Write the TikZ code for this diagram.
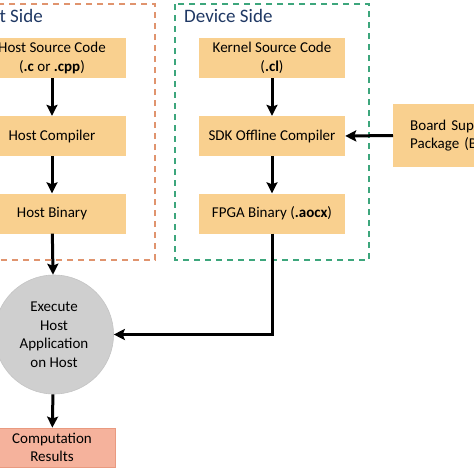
\documentclass[tikz,border=0pt]{standalone}
\usepackage{fontspec}
\setmainfont{Carlito}
\usetikzlibrary{arrows.meta,calc}
\definecolor{boxfill}{HTML}{F9D08F}
\definecolor{resfill}{HTML}{F5B29C}
\definecolor{resline}{HTML}{E99A80}
\definecolor{hostdash}{HTML}{E0946E}
\definecolor{devdash}{HTML}{3DA67C}
\definecolor{titlecol}{HTML}{1F3864}
\definecolor{circfill}{HTML}{CFCFCF}
\definecolor{circline}{HTML}{C4C4C4}
\tikzset{
  stepbox/.style={rectangle, fill=boxfill, draw=none, minimum height=40pt, align=center, inner sep=2pt, font=\fontsize{15}{18.5}\selectfont},
  flow/.style={line width=3pt, -{Stealth[length=11pt,width=11pt,inset=2pt]}},
  region/.style={line width=1.4pt, dash pattern=on 6pt off 5pt},
  title/.style={font=\fontsize{19}{22}\selectfont, text=titlecol, inner sep=0pt},
}
\begin{document}
\begin{tikzpicture}[x=1pt,y=-1pt]
\useasboundingbox (0,0) rectangle (474,474);
\clip (0,0) rectangle (474,474);
\fill[white] (0,0) rectangle (474,474);
% regions
\draw[region, draw=hostdash] (-40,4) rectangle (155,260);
\draw[region, draw=devdash] (175,4) rectangle (369,260);
\node[title, anchor=base east] (htitle) at (43,22) {Host Side};
\node[title, anchor=base west] (dtitle) at (184,22) {Device Side};
% host column
\node[stepbox, minimum width=148pt] (hsrc) at (52,58) {Host Source Code\\(\textbf{.c} or \textbf{.cpp})};
\node[stepbox, minimum width=148pt] (hcomp) at (52,136) {Host Compiler};
\node[stepbox, minimum width=148pt] (hbin) at (52,213.5) {Host Binary};
% device column
\node[stepbox, minimum width=146pt] (ksrc) at (272,58) {Kernel Source Code\\(\textbf{.cl})};
\node[stepbox, minimum width=146pt] (sdk) at (272,136) {SDK Offline Compiler};
\node[stepbox, minimum width=146pt] (fpga) at (272,213.5) {FPGA Binary (\textbf{.aocx})};
% board support package
\node[stepbox, anchor=west, minimum width=150pt, minimum height=63pt, text width=116pt, inner xsep=17pt, align=left] (bsp) at (393,135.5) {Board Support\\Package (BSP)};
% execute
\node[circle, fill=circfill, draw=circline, line width=0.6pt, minimum size=119pt, inner sep=0pt, align=center, font=\fontsize{15}{18.5}\selectfont] (exec) at (54,334.5) {Execute\\Host\\Application\\on Host};
% results
\node[stepbox, fill=resfill, draw=resline, line width=0.8pt, minimum width=126pt, minimum height=39pt] (res) at (52,447.5) {Computation\\Results};
% connectors
\draw[flow] (hsrc) -- (hcomp);
\draw[flow] (hcomp) -- (hbin);
\draw[flow] (hbin) -- (exec);
\draw[flow] (ksrc) -- (sdk);
\draw[flow] (sdk) -- (fpga);
\draw[flow] (bsp.west) -- (sdk.east);
\draw[flow] (fpga.south) |- (exec.east);
\draw[flow] (exec) -- (res);
\end{tikzpicture}
\end{document}
